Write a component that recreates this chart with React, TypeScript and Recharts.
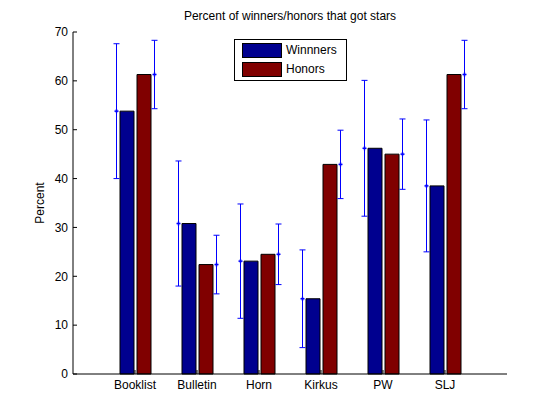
import { FC } from "react";
import { Bar, ComposedChart, ErrorBar, Legend, XAxis, YAxis } from "recharts";

const categories = ["Booklist", "Bulletin", "Horn", "Kirkus", "PW", "SLJ"];
const winners = [53.8, 30.8, 23.1, 15.4, 46.2, 38.5];
const honors = [61.3, 22.4, 24.5, 42.9, 45.0, 61.3];
const winnersErr = [13.8, 12.8, 11.7, 10.0, 13.9, 13.5];
const honorsErr = [7.0, 6.0, 6.2, 7.0, 7.2, 7.0];
const yTicks = [0, 10, 20, 30, 40, 50, 60, 70];

const title = "Percent of winners/honors that got stars";
const BLUE = "#00008f";
const RED = "#800000";
const ERR = "#0000ff";
const FONT = "'Liberation Sans', Arial, sans-serif";

const data = categories.map((name, i) => ({
  name,
  winners: winners[i],
  honors: honors[i],
  winnersMark: winners[i],
  honorsMark: honors[i],
  winnersErr: winnersErr[i],
  honorsErr: honorsErr[i],
}));

// small "+" at the mean, drawn at the top of an invisible 1px bar
const Mark = (p: any) => {
  const cx = p.x + p.width / 2;
  return (
    <g>
      <line x1={cx - 2} x2={cx + 2} y1={p.y} y2={p.y} stroke={ERR} strokeWidth={1.5} />
      <line x1={cx} x2={cx} y1={p.y - 2} y2={p.y + 2} stroke={ERR} strokeWidth={1.5} />
    </g>
  );
};

const NoLabel = () => <g />;

const LegendBox = () => (
  <div
    style={{
      width: 111,
      height: 40,
      border: "1px solid #000",
      background: "#fff",
      fontFamily: FONT,
      fontSize: 12,
      position: "relative",
    }}
  >
    {[
      { label: "Winnners", color: BLUE, top: 3 },
      { label: "Honors", color: RED, top: 22 },
    ].map((e) => (
      <div key={e.label} style={{ position: "absolute", left: 7, top: e.top, display: "flex", alignItems: "center" }}>
        <div style={{ width: 38, height: 13, background: e.color, border: "1px solid #000" }} />
        <span style={{ marginLeft: 4, lineHeight: "15px" }}>{e.label}</span>
      </div>
    ))}
  </div>
);

const tickStyle = { fontSize: 12, fill: "#000", fontFamily: FONT };

const App: FC = () => (
  <div style={{ position: "relative", width: 560, height: 420, background: "#fff", fontFamily: FONT }}>
    <style>{"body{margin:0}"}</style>
    <div
      style={{
        position: "absolute",
        left: 73,
        width: 434,
        top: 9,
        textAlign: "center",
        fontSize: 12,
        color: "#000",
      }}
    >
      {title}
    </div>
    <ComposedChart
      width={560}
      height={420}
      data={data}
      margin={{ top: 32, right: 53, left: 0, bottom: 0 }}
      barGap={3}
    >
      <XAxis
        dataKey="name"
        height={46}
        padding={{ left: 31, right: 31 }}
        tickSize={-4}
        tickMargin={10}
        tick={tickStyle}
        axisLine={{ stroke: "#000" }}
        tickLine={{ stroke: "#000" }}
      />
      <XAxis
        xAxisId="top"
        dataKey="name"
        orientation="top"
        height={0}
        padding={{ left: 31, right: 31 }}
        tickSize={-4}
        tick={NoLabel}
        axisLine={{ stroke: "#000" }}
        tickLine={{ stroke: "#000" }}
      />
      <YAxis
        type="number"
        domain={[0, 70]}
        ticks={yTicks}
        width={73}
        tickSize={-4}
        tickMargin={9}
        tick={tickStyle}
        axisLine={{ stroke: "#000" }}
        tickLine={{ stroke: "#000" }}
        label={{
          value: "Percent",
          angle: -90,
          position: "insideLeft",
          offset: 40,
          style: { textAnchor: "middle", fontSize: 12, fill: "#000", fontFamily: FONT },
        }}
      />
      <YAxis
        yAxisId="right"
        orientation="right"
        type="number"
        domain={[0, 70]}
        ticks={yTicks}
        width={0}
        tickSize={-4}
        tick={NoLabel}
        axisLine={{ stroke: "#000" }}
        tickLine={{ stroke: "#000" }}
      />
      <Legend
        layout="horizontal"
        verticalAlign="middle"
        align="center"
        wrapperStyle={{ left: 234, top: 39, width: 113, height: 42 }}
        content={() => <LegendBox />}
      />
      <Bar dataKey="winnersMark" barSize={1} shape={Mark} isAnimationActive={false} legendType="none">
        <ErrorBar dataKey="winnersErr" width={3} stroke={ERR} strokeWidth={1} />
      </Bar>
      <Bar dataKey="winners" barSize={14} fill={BLUE} stroke="#000" strokeWidth={1} isAnimationActive={false} />
      <Bar dataKey="honors" barSize={14} fill={RED} stroke="#000" strokeWidth={1} isAnimationActive={false} />
      <Bar dataKey="honorsMark" barSize={1} shape={Mark} isAnimationActive={false} legendType="none">
        <ErrorBar dataKey="honorsErr" width={3} stroke={ERR} strokeWidth={1} />
      </Bar>
    </ComposedChart>
  </div>
);

export default App;
